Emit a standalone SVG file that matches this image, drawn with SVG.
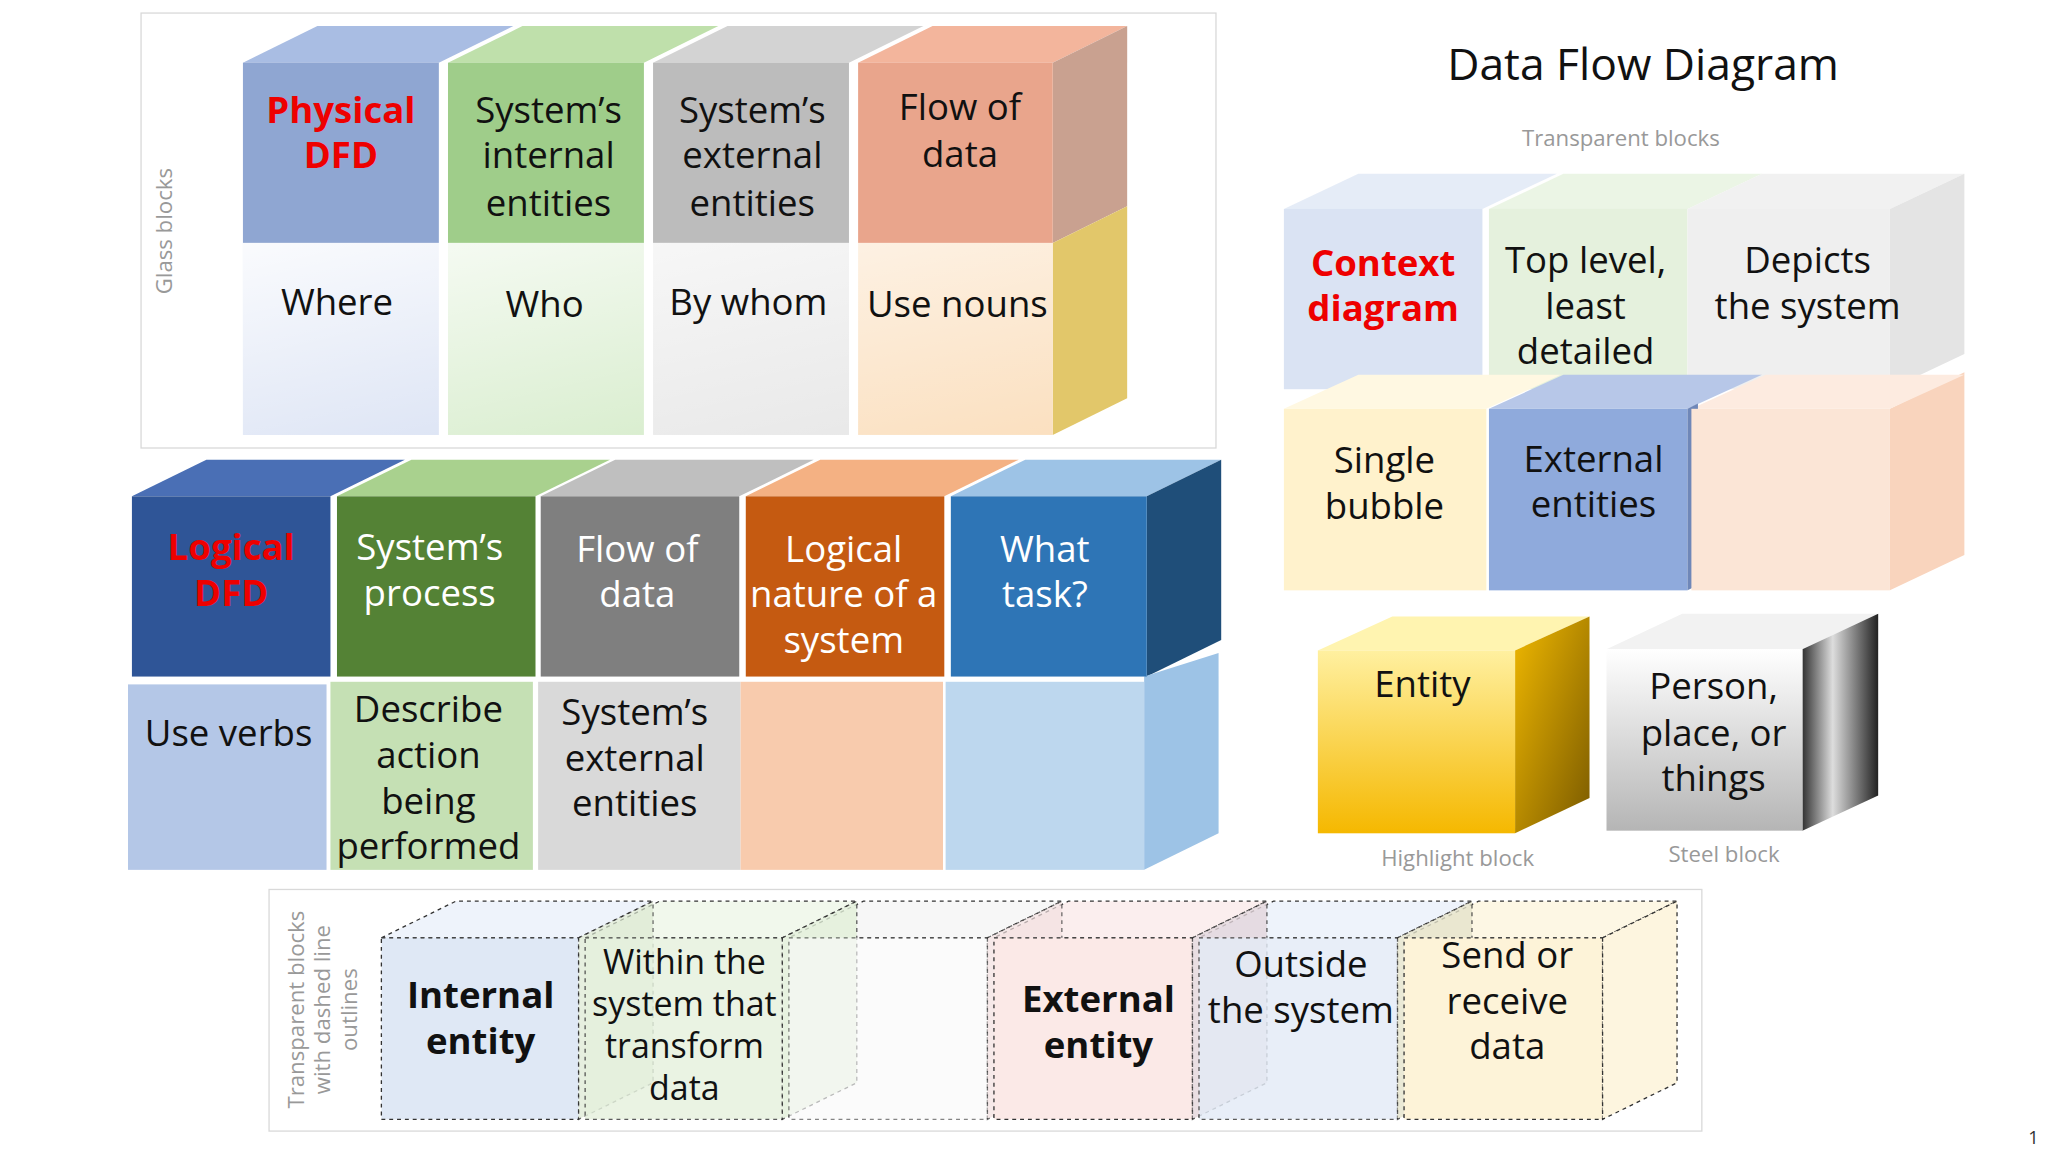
<svg xmlns="http://www.w3.org/2000/svg" width="2048" height="1152" viewBox="0 0 2048 1152">
<style>
text{font-family:"Open Sans","Liberation Sans",sans-serif;text-anchor:middle}
.t{font-size:28px;fill:#111}
.w{font-size:28px;fill:#fff}
.r{font-size:28px;fill:#e00;font-weight:bold}
.b{font-size:28px;fill:#111;font-weight:bold}
.g{font-size:17px;fill:#999}
.d{stroke:#333;stroke-width:1;stroke-dasharray:3 3}
</style>
<defs>
<linearGradient id="gold" x1="0" y1="0" x2="0" y2="1"><stop offset="0" stop-color="#fff0a0"/><stop offset="1" stop-color="#f5b800"/></linearGradient>
<linearGradient id="goldS" x1="0" y1="0" x2="1" y2="1"><stop offset="0" stop-color="#f0b800"/><stop offset="1" stop-color="#7a5a00"/></linearGradient>
<linearGradient id="steel" x1="0" y1="0" x2="0" y2="1"><stop offset="0" stop-color="#fff"/><stop offset="1" stop-color="#b5b5b5"/></linearGradient>
<linearGradient id="steelS" x1="0" y1="0" x2="1" y2="0"><stop offset="0" stop-color="#333"/><stop offset="0.4" stop-color="#ddd"/><stop offset="1" stop-color="#222"/></linearGradient>
<linearGradient id="fade" x1="0" y1="0" x2="1" y2="1"><stop offset="0" stop-color="#fff" stop-opacity="0.9"/><stop offset="1" stop-color="#fff" stop-opacity="0"/></linearGradient>
</defs>
<g transform="scale(1.3061)">
<g id="glass">
<rect x="108" y="10" width="823" height="333" fill="#fff" stroke="#d9d9d9"/>
<text class="g" transform="translate(132,177) rotate(-90)">Glass blocks</text>
<polygon points="186,48 336,48 393,20 243,20" fill="#a9bde3"/>
<polygon points="343,48 493,48 550,20 400,20" fill="#bfe0ab"/>
<polygon points="500,48 650,48 707,20 557,20" fill="#d3d3d3"/>
<polygon points="657,48 806,48 863,20 714,20" fill="#f3b59c"/>
<polygon points="806,48 863,20 863,158 806,186" fill="#c9a190"/>
<polygon points="806,186 863,158 863,305 806,333" fill="#e2c76a"/>
<rect x="186" y="48" width="150" height="138" fill="#8fa6d2"/>
<rect x="343" y="48" width="150" height="138" fill="#9fcd8a"/>
<rect x="500" y="48" width="150" height="138" fill="#bcbcbc"/>
<rect x="657" y="48" width="149" height="138" fill="#e9a58c"/>
<rect x="186" y="186" width="150" height="147" fill="#cdd8f0"/>
<rect x="343" y="186" width="150" height="147" fill="#cfe9c2"/>
<rect x="500" y="186" width="150" height="147" fill="#e6e6e6"/>
<rect x="657" y="186" width="149" height="147" fill="#fbe0c0"/>
<rect x="186" y="186" width="620" height="147" fill="url(#fade)"/>
<text class="r" x="261" y="94">Physical</text><text class="r" x="261" y="129">DFD</text>
<text class="t" x="420" y="94">System’s</text><text class="t" x="420" y="129">internal</text><text class="t" x="420" y="165">entities</text>
<text class="t" x="576" y="94">System’s</text><text class="t" x="576" y="129">external</text><text class="t" x="576" y="165">entities</text>
<text class="t" x="735" y="92">Flow of</text><text class="t" x="735" y="128">data</text>
<text class="t" x="258" y="241">Where</text><text class="t" x="417" y="243">Who</text>
<text class="t" x="573" y="241">By whom</text><text class="t" x="733" y="243">Use nouns</text>
</g>
<g id="solid">
<polygon points="101,380 253,380 310,352 158,352" fill="#4a6fb5"/>
<polygon points="258,380 410,380 467,352 315,352" fill="#a9d18e"/>
<polygon points="414,380 566,380 623,352 471,352" fill="#bfbfbf"/>
<polygon points="571,380 723,380 780,352 628,352" fill="#f4b183"/>
<polygon points="728,380 878,380 935,352 785,352" fill="#9dc3e6"/>
<polygon points="878,380 935,352 935,490 878,518" fill="#1f4e79"/>
<polygon points="876,518 933,500 933,638 876,666" fill="#9dc3e6"/>
<rect x="101" y="380" width="152" height="138" fill="#2f5597"/>
<rect x="258" y="380" width="152" height="138" fill="#548235"/>
<rect x="414" y="380" width="152" height="138" fill="#7f7f7f"/>
<rect x="571" y="380" width="152" height="138" fill="#c55a11"/>
<rect x="728" y="380" width="150" height="138" fill="#2e75b6"/>
<rect x="98" y="524" width="152" height="142" fill="#b4c7e7"/>
<rect x="253" y="522" width="155" height="144" fill="#c5e0b4"/>
<rect x="412" y="522" width="155" height="144" fill="#d9d9d9"/>
<rect x="567" y="522" width="155" height="144" fill="#f8cbad"/>
<rect x="724" y="522" width="152" height="144" fill="#bdd7ee"/>
<text class="r" x="177" y="429">Logical</text><text class="r" x="177" y="464">DFD</text>
<text class="w" x="329" y="429">System’s</text><text class="w" x="329" y="464">process</text>
<text class="w" x="488" y="430">Flow of</text><text class="w" x="488" y="465">data</text>
<text class="w" x="646" y="430">Logical</text><text class="w" x="646" y="465">nature of a</text><text class="w" x="646" y="500">system</text>
<text class="w" x="800" y="430">What</text><text class="w" x="800" y="465">task?</text>
<text class="t" x="175" y="571">Use verbs</text>
<text class="t" x="328" y="553">Describe</text><text class="t" x="328" y="588">action</text><text class="t" x="328" y="623">being</text><text class="t" x="328" y="658">performed</text>
<text class="t" x="486" y="555">System’s</text><text class="t" x="486" y="590">external</text><text class="t" x="486" y="625">entities</text>
</g>
<g id="transparent">
<text x="1258" y="61" style="font-size:34px;fill:#111">Data Flow Diagram</text>
<text class="g" x="1241" y="112">Transparent blocks</text>
<polygon points="983,160 1135,160 1192,133 1040,133" fill="#dfe7f5" opacity="0.8"/>
<polygon points="1140,160 1292,160 1349,133 1197,133" fill="#e6f2de" opacity="0.8"/>
<polygon points="1292,160 1447,160 1504,133 1349,133" fill="#eeeeee" opacity="0.8"/>
<polygon points="1447,160 1504,133 1504,271 1447,298" fill="#e4e4e4"/>
<polygon points="1447,313 1504,285 1504,425 1447,452" fill="#f9d4bd"/>
<rect x="983" y="160" width="152" height="138" fill="#dae3f3"/>
<rect x="1140" y="160" width="152" height="138" fill="#e2f0d9" opacity="0.9"/>
<rect x="1292" y="160" width="155" height="138" fill="#efefef"/>
<polygon points="983,313 1138,313 1195,287 1040,287" fill="#fff8e2"/>
<polygon points="1140,313 1292,313 1349,287 1197,287" fill="#b7c7e8"/>
<polygon points="1295,313 1447,313 1504,287 1352,287" fill="#fdebe0"/>
<rect x="983" y="313" width="155" height="139" fill="#fff2cc"/>
<rect x="1140" y="313" width="152" height="139" fill="#8faadc"/>
<polygon points="1292,313 1300,309 1300,448 1292,452" fill="#6f87b8"/>
<rect x="1295" y="313" width="152" height="139" fill="#fbe5d6"/>
<text class="r" x="1059" y="211">Context</text><text class="r" x="1059" y="246">diagram</text>
<text class="t" x="1214" y="209">Top level,</text><text class="t" x="1214" y="244">least</text><text class="t" x="1214" y="279">detailed</text>
<text class="t" x="1384" y="209">Depicts</text><text class="t" x="1384" y="244">the system</text>
<text class="t" x="1060" y="362">Single</text><text class="t" x="1060" y="397">bubble</text>
<text class="t" x="1220" y="361">External</text><text class="t" x="1220" y="396">entities</text>
</g>
<g id="highlight">
<polygon points="1009,498 1160,498 1217,472 1066,472" fill="#fff4b0"/>
<polygon points="1160,498 1217,472 1217,611 1160,638" fill="url(#goldS)"/>
<rect x="1009" y="498" width="151" height="140" fill="url(#gold)"/>
<text class="t" x="1089" y="534">Entity</text>
<text class="g" x="1116" y="663">Highlight block</text>
</g>
<g id="steelblock">
<polygon points="1230,497 1380,497 1438,470 1288,470" fill="#f2f2f2"/>
<polygon points="1380,497 1438,470 1438,609 1380,636" fill="url(#steelS)"/>
<rect x="1230" y="497" width="150" height="139" fill="url(#steel)"/>
<text class="t" x="1312" y="535">Person,</text><text class="t" x="1312" y="571">place, or</text><text class="t" x="1312" y="606">things</text>
<text class="g" x="1320" y="660">Steel block</text>
</g>
<g id="dashed">
<rect x="206" y="681" width="1097" height="185" fill="#fff" stroke="#d9d9d9"/>
<text class="g" transform="translate(233,773) rotate(-90)">Transparent blocks</text>
<text class="g" transform="translate(253,773) rotate(-90)">with dashed line</text>
<text class="g" transform="translate(273,773) rotate(-90)">outlines</text>
<polygon class="d" points="292,718 443,718 500,690 349,690" fill="#eef3fb"/>
<polygon class="d" points="448,718 599,718 656,690 505,690" fill="#f1f8ec"/>
<polygon class="d" points="604,718 756,718 813,690 661,690" fill="#f7f7f7"/>
<polygon class="d" points="761,718 913,718 970,690 818,690" fill="#fbeeee"/>
<polygon class="d" points="918,718 1070,718 1127,690 975,690" fill="#eef3fb"/>
<polygon class="d" points="1075,718 1227,718 1284,690 1132,690" fill="#fdf7e4"/>
<rect class="d" x="292" y="718" width="151" height="139" fill="#dfe8f5"/>
<polygon class="d" points="443,718 500,690 500,829 443,857" fill="#dce9d2" opacity="0.7"/>
<rect class="d" x="448" y="718" width="151" height="139" fill="#e5f1dd" opacity="0.8"/>
<polygon class="d" points="599,718 656,690 656,829 599,857" fill="#e2f0d9" opacity="0.8"/>
<rect class="d" x="604" y="718" width="152" height="139" fill="#fafafa" opacity="0.6"/>
<polygon class="d" points="756,718 813,690 813,829 756,857" fill="#f3e1e1" opacity="0.7"/>
<rect class="d" x="761" y="718" width="152" height="139" fill="#fbe9e7"/>
<polygon class="d" points="913,718 970,690 970,829 913,857" fill="#e4d6dc" opacity="0.8"/>
<rect class="d" x="918" y="718" width="152" height="139" fill="#e3ebf7" opacity="0.8"/>
<polygon class="d" points="1070,718 1127,690 1127,829 1070,857" fill="#e6e4cc" opacity="0.8"/>
<rect class="d" x="1075" y="718" width="152" height="139" fill="#fdf3d8"/>
<polygon class="d" points="1227,718 1284,690 1284,829 1227,857" fill="#fdf5df"/>
<text class="b" x="368" y="772">Internal</text><text class="b" x="368" y="807">entity</text>
<text class="t" x="524" y="746" style="font-size:26px">Within the</text><text class="t" x="524" y="778" style="font-size:26px">system that</text><text class="t" x="524" y="810" style="font-size:26px">transform</text><text class="t" x="524" y="842" style="font-size:26px">data</text>
<text class="b" x="841" y="775">External</text><text class="b" x="841" y="810">entity</text>
<text class="t" x="996" y="748">Outside</text><text class="t" x="996" y="783">the system</text>
<text class="t" x="1154" y="741">Send or</text><text class="t" x="1154" y="776">receive</text><text class="t" x="1154" y="811">data</text>
</g>
<text x="1557" y="876" style="font-size:14px;fill:#333">1</text>
</g>
</svg>
